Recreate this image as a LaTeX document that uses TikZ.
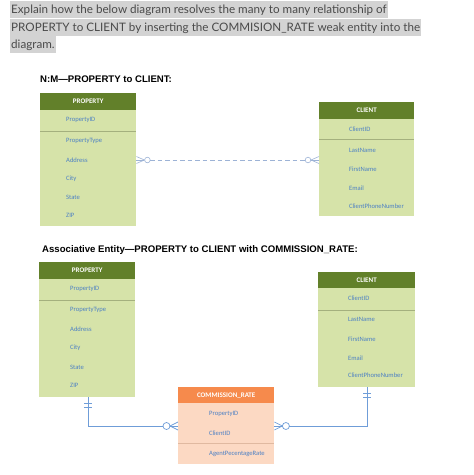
\documentclass[tikz,border=0pt]{standalone}
\usepackage{fontspec}
\setmainfont{Lato}
\newfontfamily\carlito{Carlito}
\newfontfamily\arialf{Liberation Sans}
\definecolor{hgreen}{HTML}{62802A}
\definecolor{bgreen}{HTML}{D6E3A9}
\definecolor{horange}{HTML}{F68A4C}
\definecolor{borange}{HTML}{FCD9C3}
\definecolor{attrblue}{HTML}{4C80C4}
\definecolor{linkblue}{HTML}{6F9DD8}
\definecolor{dashblue}{HTML}{9DB3D6}
\definecolor{hlgray}{HTML}{D3D3D3}
\definecolor{paratext}{HTML}{4A4A4A}
\definecolor{sepgreen}{HTML}{A4B07E}
\definecolor{seporange}{HTML}{E0B9A0}
\tikzset{
  para/.style={anchor=base west, fill=hlgray, text=paratext, inner xsep=1pt, inner ysep=0pt,
    text height=12.5pt, text depth=4.5pt, font=\fontsize{11.65}{14}\selectfont},
  heading/.style={anchor=base west, inner sep=0pt, font=\arialf\bfseries\fontsize{9.6}{11}\selectfont},
  hdrG/.style={anchor=north west, fill=hgreen, text=white, inner sep=0pt, font=\carlito\bfseries\fontsize{7}{8}\selectfont},
  hdrO/.style={hdrG, fill=horange},
  bodyG/.style={anchor=north west, fill=bgreen, inner sep=0pt},
  bodyO/.style={bodyG, fill=borange},
  attr/.style={anchor=west, inner sep=0pt, text=attrblue, font=\carlito\fontsize{6.6}{7}\selectfont},
  sepG/.style={draw=sepgreen, line width=0.5pt},
  sepO/.style={draw=seporange, line width=0.5pt},
  dlink/.style={draw=dashblue, line width=0.6pt, dash pattern=on 4.5pt off 3pt},
  slink/.style={draw=linkblue, line width=0.7pt},
  foot/.style={draw=dashblue, line width=0.6pt},
  sfoot/.style={draw=linkblue, line width=0.7pt}
}
\begin{document}
\begin{tikzpicture}[x=1pt,y=-1pt]
\useasboundingbox[fill=white] (0,0) rectangle (474,475);
% question text
\node[para] (q1) at (10,13.5) {Explain how the below diagram resolves the many to many relationship of};
\node[para] (q2) at (10,31) {PROPERTY to CLIENT by inserting the COMMISION\_RATE weak entity into the};
\node[para] (q3) at (10,48.5) {diagram.};
% headings
\node[heading] (h1) at (40,82) {N:M\textemdash PROPERTY to CLIENT:};
\node[heading] (h2) at (42,252) {Associative Entity\textemdash PROPERTY to CLIENT with COMMISSION\_RATE:};

% ===== top PROPERTY
\node[hdrG, minimum width=96pt, minimum height=17pt] (ph1) at (40,93) {PROPERTY};
\node[bodyG, minimum width=96pt, minimum height=116pt] (pb1) at (40,110) {};
\draw[sepG] (40,131) -- (136,131);
\node[attr] (p1a) at (66,120) {PropertyID};
\node[attr] (p1b) at (66,141) {PropertyType};
\node[attr] (p1c) at (66,160) {Address};
\node[attr] (p1d) at (66,179) {City};
\node[attr] (p1e) at (66,197) {State};
\node[attr] (p1f) at (66,215) {ZIP};

% ===== top CLIENT
\node[hdrG, minimum width=95pt, minimum height=17pt] (ch1) at (319,102) {CLIENT};
\node[bodyG, minimum width=95pt, minimum height=97pt] (cb1) at (319,119) {};
\draw[sepG] (319,139) -- (414,139);
\node[attr] (c1a) at (349,129) {ClientID};
\node[attr] (c1b) at (349,150) {LastName};
\node[attr] (c1c) at (349,169) {FirstName};
\node[attr] (c1d) at (349,188) {Email};
\node[attr] (c1e) at (349,206) {ClientPhoneNumber};

% top N:M connector
\coordinate (t1) at (pb1.east |- p1c);
\coordinate (t2) at (cb1.west |- p1c);
\draw[foot] ([yshift=-3.5pt]t1) -- ([xshift=8pt]t1) -- ([yshift=3.5pt]t1);
\draw[foot] (t1) -- ([xshift=8pt]t1);
\draw[foot] ([xshift=11pt]t1) circle (2.8pt);
\draw[foot] ([yshift=-3.5pt]t2) -- ([xshift=-8pt]t2) -- ([yshift=3.5pt]t2);
\draw[foot] (t2) -- ([xshift=-8pt]t2);
\draw[foot] ([xshift=-11pt]t2) circle (2.8pt);
\draw[dlink] ([xshift=13.8pt]t1) -- ([xshift=-13.8pt]t2);

% ===== bottom PROPERTY
\node[hdrG, minimum width=96pt, minimum height=17pt] (ph2) at (39,262) {PROPERTY};
\node[bodyG, minimum width=96pt, minimum height=118pt] (pb2) at (39,279) {};
\draw[sepG] (39,300) -- (135,300);
\node[attr] (p2a) at (70,289) {PropertyID};
\node[attr] (p2b) at (70,310) {PropertyType};
\node[attr] (p2c) at (70,329) {Address};
\node[attr] (p2d) at (70,348) {City};
\node[attr] (p2e) at (70,367) {State};
\node[attr] (p2f) at (70,385) {ZIP};

% ===== bottom CLIENT
\node[hdrG, minimum width=97pt, minimum height=16pt] (ch2) at (318,272) {CLIENT};
\node[bodyG, minimum width=97pt, minimum height=99pt] (cb2) at (318,288) {};
\draw[sepG] (318,310) -- (415,310);
\node[attr] (c2a) at (348,298) {ClientID};
\node[attr] (c2b) at (348,319) {LastName};
\node[attr] (c2c) at (348,339) {FirstName};
\node[attr] (c2d) at (348,358) {Email};
\node[attr] (c2e) at (348,375) {ClientPhoneNumber};

% ===== COMMISSION_RATE
\node[hdrO, minimum width=96pt, minimum height=16pt] (rh) at (178,387) {COMMISSION\_RATE};
\node[bodyO, minimum width=96pt, minimum height=61pt] (rb) at (178,403) {};
\draw[sepO] (178,443) -- (274,443);
\node[attr] (ra) at (209,414) {PropertyID};
\node[attr] (rbb) at (209,433) {ClientID};
\node[attr] (rc) at (209,454) {AgentPecentageRate};

% bottom connectors
\coordinate (bl0) at (88,397);
\coordinate (bl1) at (88,426);
\coordinate (bl2) at (rb.west |- bl1);
\draw[slink] (bl0) -- (bl1) -- ([xshift=-15pt]bl2);
\draw[sfoot] (84,403) -- (92,403);
\draw[sfoot] (84,407) -- (92,407);
\draw[sfoot] ([yshift=-4pt]bl2) -- ([xshift=-8pt]bl2) -- ([yshift=4pt]bl2);
\draw[sfoot] (bl2) -- ([xshift=-8pt]bl2);
\draw[sfoot] ([xshift=-11.5pt]bl2) circle (3.5pt);

\coordinate (br0) at (367,387);
\coordinate (br1) at (367,426);
\coordinate (br2) at (rb.east |- br1);
\draw[slink] (br0) -- (br1) -- ([xshift=15pt]br2);
\draw[sfoot] (363,393) -- (371,393);
\draw[sfoot] (363,397) -- (371,397);
\draw[sfoot] ([yshift=-4pt]br2) -- ([xshift=8pt]br2) -- ([yshift=4pt]br2);
\draw[sfoot] (br2) -- ([xshift=8pt]br2);
\draw[sfoot] ([xshift=11.5pt]br2) circle (3.5pt);
\end{tikzpicture}
\end{document}
